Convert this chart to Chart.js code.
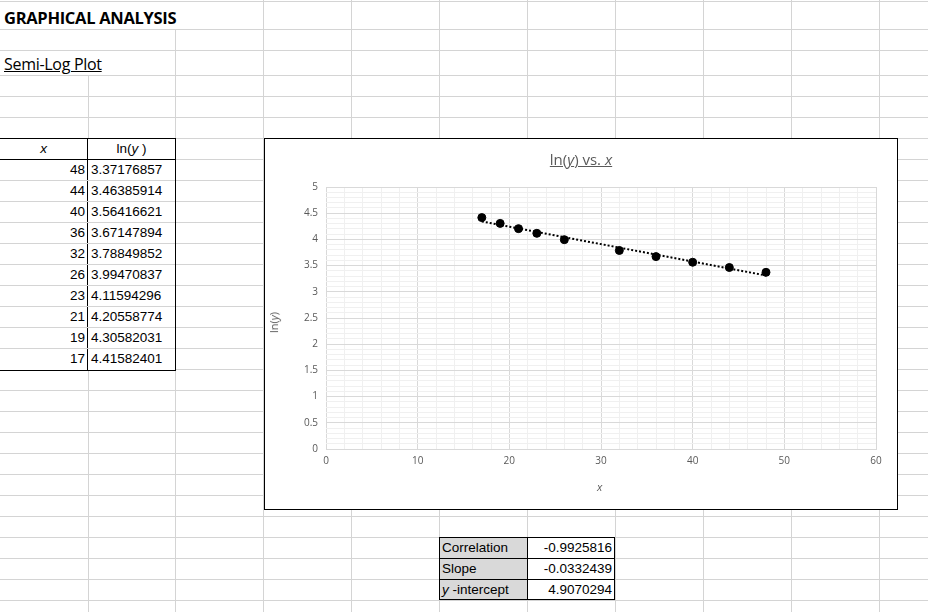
<!DOCTYPE html>
<html><head><meta charset="utf-8">
<script src="https://cdn.jsdelivr.net/npm/chart.js@4/dist/chart.umd.min.js"></script>
<style>
body{margin:0;width:928px;height:612px;overflow:hidden;background:#fff;font-family:"Liberation Sans",Arial,sans-serif;position:relative}
.a{position:absolute}
.vl{position:absolute;width:1px;background:#d4d4d4}
.hl{position:absolute;height:1px;background:#d4d4d4}
.cell{position:absolute;font-size:13.5px;line-height:20px;color:#000;white-space:nowrap}
</style></head><body>
<div id="grid"></div>
<div class="a" style="left:4px;top:6px;font-weight:bold;font-size:16.5px;font-family:'Open Sans',sans-serif;letter-spacing:-0.3px">GRAPHICAL ANALYSIS</div>
<div class="a" style="left:4px;top:53px;font-size:16px;font-family:'Open Sans',sans-serif;text-decoration:underline;letter-spacing:-0.3px">Semi-Log Plot</div>
<div id="tbl"></div>
<div class="a" style="left:264px;top:138px;width:632px;height:370px;border:1px solid #000;background:#fff">
  <canvas id="c" width="632" height="370" style="position:absolute;left:0;top:0"></canvas>
  <div class="a" style="left:0;width:632px;top:10px;text-align:center;font-size:15px;color:#595959;font-family:'Open Sans',sans-serif"><span style="text-decoration:underline">ln(<i>y</i>) vs. <i>x</i></span></div>
  <div class="a" style="left:-2px;top:176px;transform:rotate(-90deg);font-size:11px;color:#595959;font-family:'Open Sans',sans-serif">ln(<i>y</i>)</div>
  <div class="a" style="left:332px;top:340px;font-size:11px;color:#595959;font-family:'Open Sans',sans-serif"><i>x</i></div>
</div>
<script>
const xValues=[48,44,40,36,32,26,23,21,19,17];
const lnY=[3.37176857,3.46385914,3.56416621,3.67147894,3.78849852,3.99470837,4.11594296,4.20558774,4.30582031,4.41582401];
const lnYText=["3.37176857","3.46385914","3.56416621","3.67147894","3.78849852","3.99470837","4.11594296","4.20558774","4.30582031","4.41582401"];
const statLabels=["Correlation","Slope","y-intercept"];
const statValues=["-0.9925816","-0.0332439","4.9070294"];
const slope=-0.0332439, intercept=4.9070294;

// spreadsheet grid
const cols=[88,175,263,351,439,527,615,703,791,879];
const rows=[29,50,75,96,117,138,159,180,201,222,243,264,285,306,327,348,369,390,411,432,453,474,495,516,537,558,579,600];
let g='';
g+='<div class="hl" style="left:0;top:1px;width:928px"></div>';
rows.forEach(y=>g+=`<div class="hl" style="left:0;top:${y}px;width:928px"></div>`);
cols.forEach(x=>{
  let top=0;
  if(x<263) top=(x===88)?75:29;
  g+=`<div class="vl" style="left:${x}px;top:${top}px;height:${612-top}px"></div>`;
});
document.getElementById('grid').innerHTML=g;
// mask row 1 and row3 overflow
let t='';
// data table
t+=`<div class="a" style="left:0;top:138px;width:176px;height:231px;border-top:1px solid #000;border-bottom:1px solid #000;background:#fff"></div>`;
t+=`<div class="a" style="left:87px;top:138px;width:1px;height:232px;background:#000"></div>`;
t+=`<div class="a" style="left:175px;top:138px;width:1px;height:232px;background:#000"></div>`;
t+=`<div class="a" style="left:0;top:159px;width:176px;height:1px;background:#000"></div>`;
for(let i=1;i<10;i++){t+=`<div class="hl" style="left:0;top:${159+21*i}px;width:175px"></div>`;}
t+=`<div class="cell" style="left:0;width:87px;top:139px;text-align:center"><i>x</i></div>`;
t+=`<div class="cell" style="left:88px;width:87px;top:139px;text-align:center">ln(<i>y</i> )</div>`;
xValues.forEach((v,i)=>{
  t+=`<div class="cell" style="left:0;width:85px;top:${160+21*i}px;text-align:right">${v}</div>`;
  t+=`<div class="cell" style="left:91px;top:${160+21*i}px">${lnYText[i]}</div>`;
});
// stats table
t+=`<div class="a" style="left:439px;top:537px;width:88px;height:63px;background:#d9d9d9"></div>`;
t+=`<div class="a" style="left:439px;top:537px;width:176px;height:63px;border:1px solid #000;box-sizing:border-box"></div>`;
t+=`<div class="a" style="left:527px;top:537px;width:1px;height:63px;background:#000"></div>`;
t+=`<div class="a" style="left:439px;top:558px;width:176px;height:1px;background:#000"></div>`;
t+=`<div class="a" style="left:439px;top:579px;width:176px;height:1px;background:#000"></div>`;
statLabels.forEach((s,i)=>{
  const lab=s==='y-intercept'?'<i>y</i> -intercept':s;
  t+=`<div class="cell" style="left:442px;top:${538+21*i}px">${lab}</div>`;
  t+=`<div class="cell" style="left:528px;width:84px;top:${538+21*i}px;text-align:right">${statValues[i]}</div>`;
});
document.getElementById('tbl').innerHTML=t;

const pts=xValues.map((x,i)=>({x:x,y:lnY[i]}));
const trend=[{x:17,y:intercept+slope*17},{x:48,y:intercept+slope*48}];
const tickFont={family:"'Open Sans',sans-serif",size:10};
new Chart(document.getElementById('c'),{
  data:{datasets:[
    {type:'scatter',data:pts,backgroundColor:'#000',borderColor:'#000',pointRadius:4,pointHoverRadius:4},
    {type:'line',data:trend,borderColor:'#000',borderWidth:2,borderDash:[2,2],pointRadius:0,fill:false}
  ]},
  options:{responsive:false,animation:false,
    layout:{padding:{left:0,right:21,top:48,bottom:0}},
    plugins:{legend:{display:false},tooltip:{enabled:false}},
    scales:{
      x:{type:'linear',min:0,max:60,
        ticks:{stepSize:2,autoSkip:false,maxRotation:0,color:'#595959',font:tickFont,padding:6,
          callback:v=>v%10===0?v:''},
        grid:{color:c=>c.tick&&c.tick.value%10===0?'#d9d9d9':'#f0f0f0',drawTicks:false},
        border:{color:'#d9d9d9'},
        afterFit:s=>{s.height=60;}},
      y:{min:0,max:5,
        ticks:{stepSize:0.1,autoSkip:false,color:'#595959',font:tickFont,padding:8,
          callback:v=>{const r=Math.round(v*10);return r%5===0?String(r/10):'';}},
        grid:{color:c=>c.tick&&Math.round(c.tick.value*10)%5===0?'#d9d9d9':'#f0f0f0',drawTicks:false},
        border:{display:false},
        afterFit:s=>{s.width=61;}}
    }}
});
</script>
</body></html>
